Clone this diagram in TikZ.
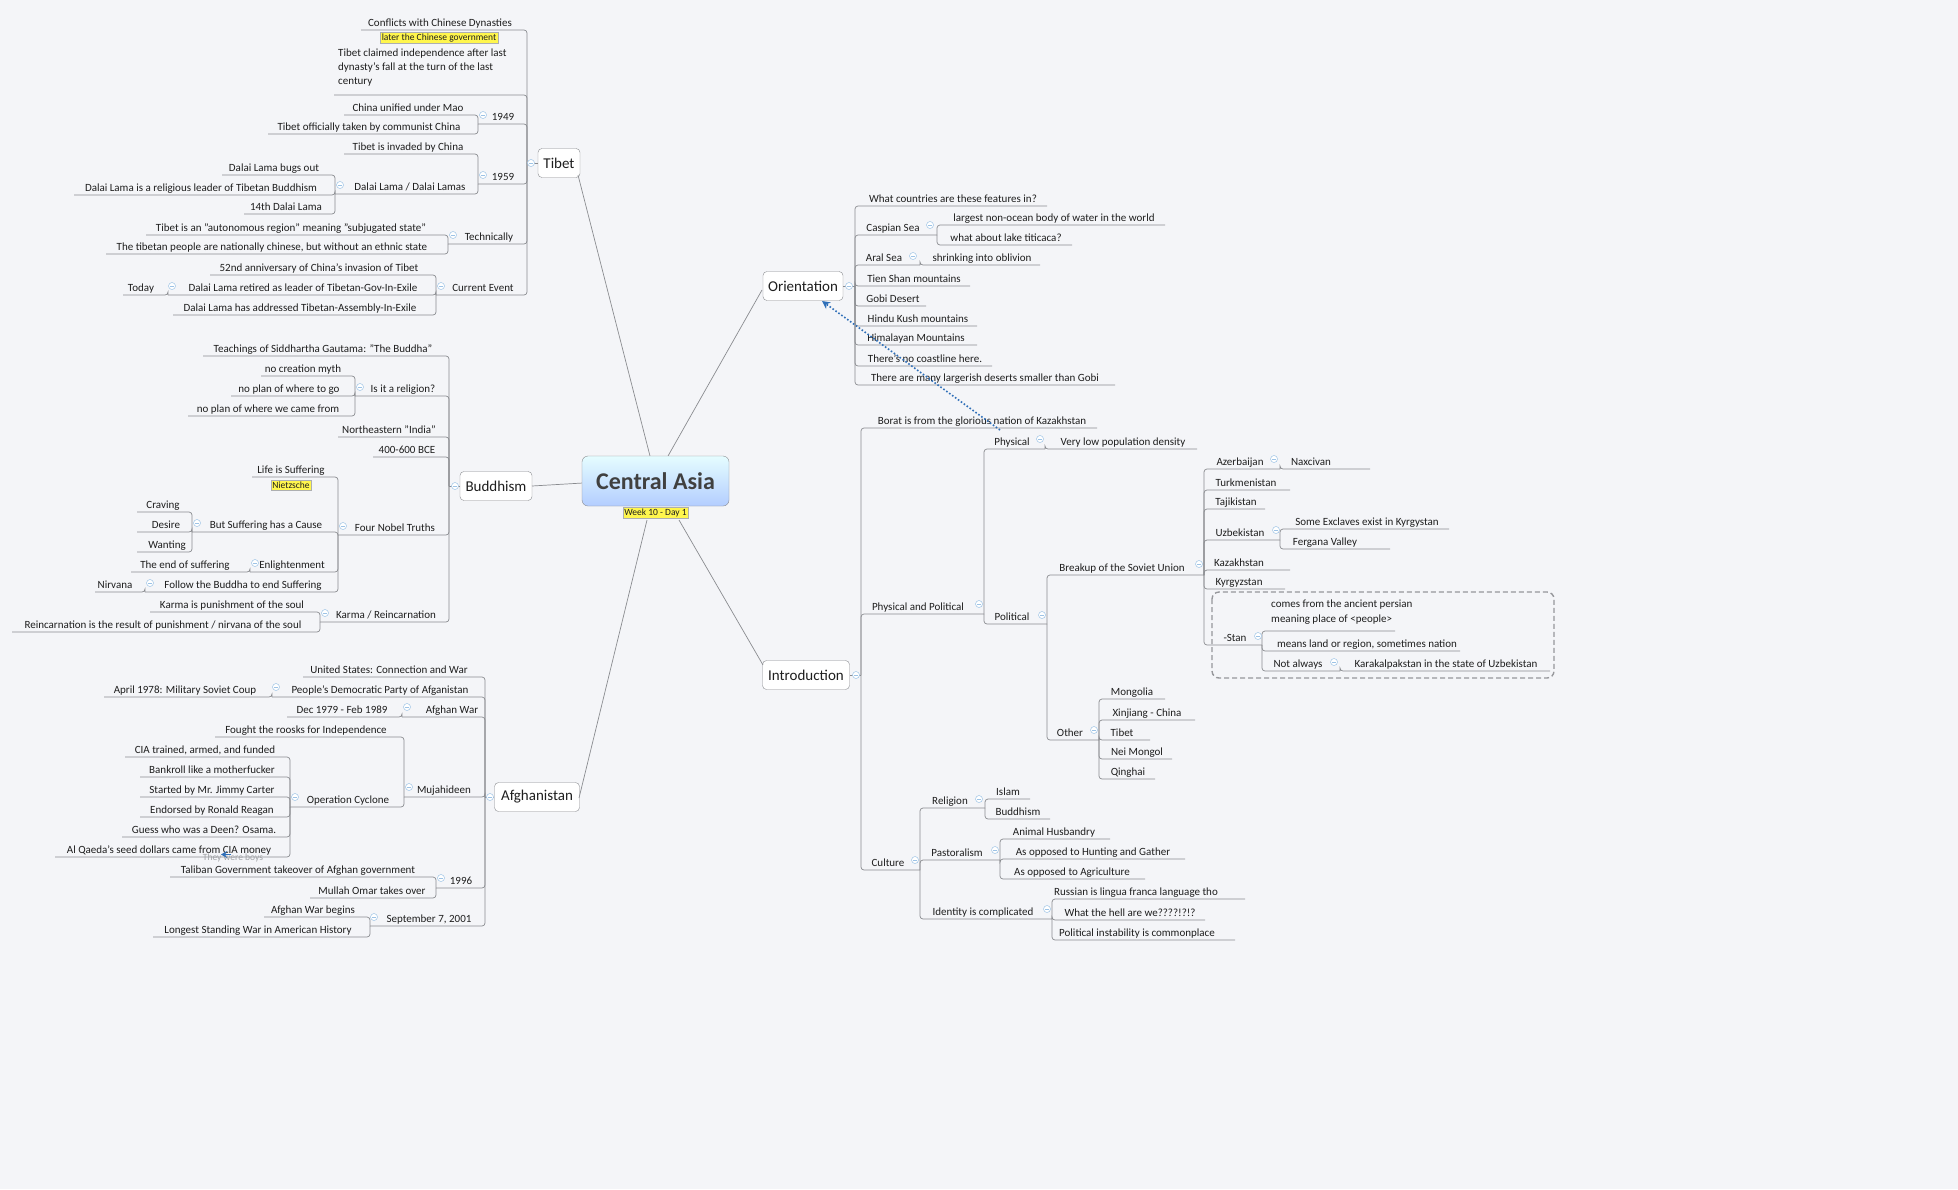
\documentclass[tikz,border=0pt]{standalone}
\usepackage{fontspec}
\setmainfont{Carlito}
\usetikzlibrary{arrows.meta}
\definecolor{bg}{HTML}{F4F5F8}
\definecolor{ln}{HTML}{8A8C90}
\definecolor{tx}{HTML}{1E1E1E}
\definecolor{cb}{HTML}{9DC3E6}
\definecolor{rel}{HTML}{2F6FB8}
\tikzset{
  x=1pt,y=-1pt,
  tx/.style={anchor=base,inner sep=0pt,text=tx,font=\fontsize{11}{13.5}\selectfont},
  ln/.style={draw=ln,line width=0.7pt,rounded corners=3pt},
  box/.style={draw=ln,fill=white,rounded corners=4pt,inner sep=0pt,text=tx,font=\fontsize{15}{17}\selectfont,minimum height=29pt},
  note/.style={draw=ln!70,fill=yellow!70,inner sep=1.5pt,text=tx,font=\fontsize{9.5}{11}\selectfont},
  cir/.style={draw=cb,fill=white,line width=0.5pt},
}
\newcommand\tp[6]{\coordinate (#1L) at (#2,#4); \coordinate (#1R) at (#3,#4); \node[tx] (#1) at (#5,#4-4) {#6};}
\newcommand\cnL[2]{\draw[ln] (#1L) -- (#1R) -- (#2L);}
\newcommand\cnR[2]{\draw[ln] (#1R) -- (#1L) -- (#2R);}
\begin{document}
\begin{tikzpicture}
\fill[bg] (0,0) rectangle (1958,1189);
\useasboundingbox (0,0) rectangle (1958,1189);

% ---------- central and main boxes
\node[box,minimum width=42pt] (tibet) at (559,163) {Tibet};
\node[box,minimum width=72pt] (bud) at (496,486) {Buddhism};
\node[box,minimum width=85pt] (afg) at (537,797) {Afghanistan};
\node[box,minimum width=80pt] (orient) at (803,286) {Orientation};
\node[box,minimum width=87pt] (intro) at (806,675) {Introduction};
\draw[ln,rounded corners=0] (650,456) -- (578,175);
\draw[ln,rounded corners=0] (532,486) -- (583,483);
\draw[ln,rounded corners=0] (647,520) -- (579,798);
\draw[ln,rounded corners=0] (668,456) -- (762,290);
\draw[ln,rounded corners=0] (679,520) -- (763,665);
\node[draw=ln,rounded corners=6pt,minimum width=147pt,minimum height=50pt,top color=blue!8!cyan!10,bottom color=cyan!35!blue!30,text=black!75,font=\bfseries\fontsize{24}{28}\selectfont] (ca) at (655.5,481) {Central Asia};
\node[note] (week) at (655.5,513) {Week 10 - Day 1};

% junctions
\coordinate (tibJL) at (527,163);
\coordinate (budJL) at (449,486);
\coordinate (afJL) at (485,797);
\coordinate (orJR) at (855,286);
\coordinate (inJR) at (861,675);
\draw[ln] (tibJL) -- (tibet.west);
\draw[ln] (budJL) -- (bud.west);
\draw[ln] (afJL) -- (afg.west);
\draw[ln] (orJR) -- (orient.east);
\draw[ln] (inJR) -- (intro.east);

% ---------- Tibet
\tp{t1}{361}{527}{30}{440}{Conflicts with Chinese Dynasties}
\node[note] (t1n) at (439,38) {later the Chinese government};
\coordinate (t2L) at (334,95); \coordinate (t2R) at (527,95);
\node[tx,anchor=north west,align=left,font=\fontsize{11}{14}\selectfont] (t2) at (338,49) {Tibet claimed independence after last\\dynasty's fall at the turn of the last\\century};
\tp{t3}{478}{527}{124}{503}{1949}
\tp{t31}{344}{478}{115}{408}{China unified under Mao}
\tp{t32}{268}{478}{134}{369}{Tibet officially taken by communist China}
\tp{t4}{478}{527}{184}{503}{1959}
\tp{t41}{344}{478}{154}{408}{Tibet is invaded by China}
\tp{t42}{335}{478}{194}{410}{Dalai Lama / Dalai Lamas}
\tp{t421}{222}{335}{175}{274}{Dalai Lama bugs out}
\tp{t422}{74}{335}{195}{201}{Dalai Lama is a religious leader of Tibetan Buddhism}
\tp{t423}{244}{335}{214}{286}{14th Dalai Lama}
\tp{t5}{448}{527}{244}{489}{Technically}
\tp{t51}{146}{448}{235}{291}{Tibet is an "autonomous region" meaning "subjugated state"}
\tp{t52}{106}{448}{254}{272}{The tibetan people are nationally chinese, but without an ethnic state}
\tp{t6}{436}{527}{295}{483}{Current Event}
\tp{t61}{210}{436}{275}{319}{52nd anniversary of China's invasion of Tibet}
\tp{t62}{168}{436}{295}{303}{Dalai Lama retired as leader of Tibetan-Gov-In-Exile}
\tp{t621}{123}{168}{295}{141}{Today}
\tp{t63}{173}{436}{315}{300}{Dalai Lama has addressed Tibetan-Assembly-In-Exile}
\foreach \c in {t1,t2,t3,t4,t5,t6} {\cnL{\c}{tibJ}}
\cnL{t31}{t3}\cnL{t32}{t3}\cnL{t41}{t4}\cnL{t42}{t4}
\cnL{t421}{t42}\cnL{t422}{t42}\cnL{t423}{t42}
\cnL{t51}{t5}\cnL{t52}{t5}\cnL{t61}{t6}\cnL{t62}{t6}\cnL{t63}{t6}\cnL{t621}{t62}

% ---------- Buddhism
\tp{b1}{203}{449}{356}{323}{Teachings of Siddhartha Gautama: "The Buddha"}
\tp{b2}{355}{449}{396}{403}{Is it a religion?}
\tp{b21}{261}{355}{376}{303}{no creation myth}
\tp{b22}{231}{355}{396}{289}{no plan of where to go}
\tp{b23}{188}{355}{416}{268}{no plan of where we came from}
\tp{b3}{338}{449}{437}{389}{Northeastern "India"}
\tp{b4}{373}{449}{457}{407}{400-600 BCE}
\tp{b5}{338}{449}{535}{395}{Four Nobel Truths}
\tp{b51}{252}{338}{477}{291}{Life is Suffering}
\node[note] (b51n) at (291,485) {Nietzsche};
\tp{b52}{192}{338}{532}{266}{But Suffering has a Cause}
\tp{b521}{137}{192}{512}{163}{Craving}
\tp{b522}{137}{192}{532}{166}{Desire}
\tp{b523}{137}{192}{552}{167}{Wanting}
\tp{b53}{250}{338}{572}{292}{Enlightenment}
\tp{b531}{131}{250}{572}{185}{The end of suffering}
\tp{b54}{145}{338}{592}{243}{Follow the Buddha to end Suffering}
\tp{b541}{95}{145}{592}{115}{Nirvana}
\tp{b6}{320}{449}{622}{386}{Karma / Reincarnation}
\tp{b61}{150}{320}{612}{232}{Karma is punishment of the soul}
\tp{b62}{12}{320}{632}{163}{Reincarnation is the result of punishment / nirvana of the soul}
\foreach \c in {b1,b2,b3,b4,b5,b6} {\cnL{\c}{budJ}}
\cnL{b21}{b2}\cnL{b22}{b2}\cnL{b23}{b2}
\cnL{b51}{b5}\cnL{b52}{b5}\cnL{b53}{b5}\cnL{b54}{b5}
\cnL{b521}{b52}\cnL{b522}{b52}\cnL{b523}{b52}
\cnL{b531}{b53}\cnL{b541}{b54}\cnL{b61}{b6}\cnL{b62}{b6}

% ---------- Afghanistan
\tp{a1}{303}{485}{677}{389}{United States: Connection and War}
\tp{a2}{272}{485}{697}{380}{People's Democratic Party of Afganistan}
\tp{a21}{104}{272}{697}{185}{April 1978: Military Soviet Coup}
\tp{a3}{402}{485}{717}{452}{Afghan War}
\tp{a31}{287}{402}{717}{342}{Dec 1979 - Feb 1989}
\tp{a4}{404}{485}{797}{444}{Mujahideen}
\tp{a41}{215}{404}{737}{306}{Fought the roosks for Independence}
\tp{a42}{290}{404}{807}{348}{Operation Cyclone}
\tp{a421}{125}{290}{757}{205}{CIA trained, armed, and funded}
\tp{a422}{140}{290}{777}{212}{Bankroll like a motherfucker}
\tp{a423}{140}{290}{797}{212}{Started by Mr. Jimmy Carter}
\tp{a424}{140}{290}{817}{212}{Endorsed by Ronald Reagan}
\tp{a425}{122}{290}{837}{204}{Guess who was a Deen? Osama.}
\tp{a426}{55}{290}{857}{169}{Al Qaeda's seed dollars came from CIA money}
\tp{a5}{436}{485}{888}{461}{1996}
\tp{a51}{170}{436}{877}{298}{Taliban Government takeover of Afghan government}
\tp{a52}{310}{436}{898}{372}{Mullah Omar takes over}
\tp{a6}{370}{485}{926}{429}{September 7, 2001}
\tp{a61}{264}{370}{917}{313}{Afghan War begins}
\tp{a62}{153}{370}{937}{258}{Longest Standing War in American History}
\foreach \c in {a1,a2,a3,a4,a5,a6} {\cnL{\c}{afJ}}
\cnL{a21}{a2}\cnL{a31}{a3}\cnL{a41}{a4}\cnL{a42}{a4}
\foreach \c in {a421,a422,a423,a424,a425,a426} {\cnL{\c}{a42}}
\cnL{a51}{a5}\cnL{a52}{a5}\cnL{a61}{a6}\cnL{a62}{a6}
\node[tx,text=ln!80,font=\fontsize{9.5}{11}\selectfont] (boys) at (233,860) {They were boys};
\draw[rel,line width=1.2pt,-{Stealth[length=6pt,width=7pt]}] (boys.center) ++(-2,-3) -- ++(-10,0);

% ---------- Orientation
\tp{o1}{855}{1047}{206}{953}{What countries are these features in?}
\tp{o2}{855}{937}{235}{893}{Caspian Sea}
\tp{o21}{937}{1165}{225}{1054}{largest non-ocean body of water in the world}
\tp{o22}{937}{1072}{245}{1006}{what about lake titicaca?}
\tp{o3}{855}{920}{265}{884}{Aral Sea}
\tp{o31}{920}{1040}{265}{982}{shrinking into oblivion}
\tp{o4}{855}{970}{286}{914}{Tien Shan mountains}
\tp{o5}{855}{926}{306}{893}{Gobi Desert}
\tp{o6}{855}{977}{326}{918}{Hindu Kush mountains}
\tp{o7}{855}{977}{345}{916}{Himalayan Mountains}
\tp{o8}{855}{992}{366}{925}{There's no coastline here.}
\tp{o9}{855}{1115}{385}{985}{There are many largerish deserts smaller than Gobi}
\foreach \c in {o1,o2,o3,o4,o5,o6,o7,o8,o9} {\cnR{\c}{orJ}}
\cnR{o21}{o2}\cnR{o22}{o2}\cnR{o31}{o3}

% ---------- Introduction
\tp{i1}{861}{1097}{428}{982}{Borat is from the glorious nation of Kazakhstan}
\tp{i2}{861}{984}{614}{918}{Physical and Political}
\tp{i21}{984}{1045}{449}{1012}{Physical}
\tp{i211}{1045}{1197}{449}{1123}{Very low population density}
\tp{i22}{984}{1047}{624}{1012}{Political}
\tp{i221}{1047}{1204}{575}{1122}{Breakup of the Soviet Union}
\tp{i2211}{1204}{1280}{469}{1240}{Azerbaijan}
\tp{i22111}{1280}{1370}{469}{1311}{Naxcivan}
\tp{i2212}{1204}{1290}{490}{1246}{Turkmenistan}
\tp{i2213}{1204}{1265}{509}{1236}{Tajikistan}
\tp{i2214}{1204}{1280}{540}{1240}{Uzbekistan}
\tp{i22141}{1280}{1449}{529}{1367}{Some Exclaves exist in Kyrgystan}
\tp{i22142}{1280}{1390}{549}{1325}{Fergana Valley}
\tp{i2215}{1204}{1290}{570}{1239}{Kazakhstan}
\tp{i2216}{1204}{1285}{589}{1239}{Kyrgyzstan}
\tp{i2217}{1204}{1262}{645}{1235}{-Stan}
\coordinate (i22171L) at (1262,631); \coordinate (i22171R) at (1395,631);
\node[tx,anchor=north west,align=left,font=\fontsize{11}{14.5}\selectfont] (i22171) at (1271,600) {comes from the ancient persian\\meaning place of <people>};
\tp{i22172}{1262}{1460}{651}{1367}{means land or region, sometimes nation}
\tp{i22173}{1262}{1340}{671}{1298}{Not always}
\tp{i221731}{1340}{1550}{671}{1446}{Karakalpakstan in the state of Uzbekistan}
\tp{i222}{1047}{1099}{740}{1070}{Other}
\tp{i2221}{1099}{1165}{699}{1132}{Mongolia}
\tp{i2222}{1099}{1195}{720}{1147}{Xinjiang - China}
\tp{i2223}{1099}{1150}{740}{1122}{Tibet}
\tp{i2224}{1099}{1172}{759}{1137}{Nei Mongol}
\tp{i2225}{1099}{1155}{779}{1128}{Qinghai}
\tp{i3}{861}{920}{870}{888}{Culture}
\tp{i31}{920}{985}{808}{950}{Religion}
\tp{i311}{985}{1030}{799}{1008}{Islam}
\tp{i312}{985}{1050}{819}{1018}{Buddhism}
\tp{i32}{920}{1000}{860}{957}{Pastoralism}
\tp{i321}{1000}{1110}{839}{1054}{Animal Husbandry}
\tp{i322}{1000}{1185}{859}{1093}{As opposed to Hunting and Gather}
\tp{i323}{1000}{1145}{879}{1072}{As opposed to Agriculture}
\tp{i33}{920}{1052}{919}{983}{Identity is complicated}
\tp{i331}{1052}{1245}{899}{1136}{Russian is lingua franca language tho}
\tp{i332}{1052}{1205}{920}{1130}{What the hell are we????!?!?}
\tp{i333}{1052}{1235}{940}{1137}{Political instability is commonplace}
\cnR{i1}{inJ}\cnR{i2}{inJ}\cnR{i3}{inJ}
\cnR{i21}{i2}\cnR{i22}{i2}\cnR{i211}{i21}
\cnR{i221}{i22}\cnR{i222}{i22}
\foreach \c in {i2211,i2212,i2213,i2214,i2215,i2216,i2217} {\cnR{\c}{i221}}
\cnR{i22111}{i2211}\cnR{i22141}{i2214}\cnR{i22142}{i2214}
\cnR{i22171}{i2217}\cnR{i22172}{i2217}\cnR{i22173}{i2217}\cnR{i221731}{i22173}
\foreach \c in {i2221,i2222,i2223,i2224,i2225} {\cnR{\c}{i222}}
\cnR{i31}{i3}\cnR{i32}{i3}\cnR{i33}{i3}
\cnR{i311}{i31}\cnR{i312}{i31}
\cnR{i321}{i32}\cnR{i322}{i32}\cnR{i323}{i32}
\cnR{i331}{i33}\cnR{i332}{i33}\cnR{i333}{i33}
\draw[ln!90,dashed,line width=1.4pt,dash pattern=on 5pt off 3pt,rounded corners=7pt] (1212,592) rectangle (1554,678);

% relationship
\coordinate (relS) at (1000,430);
\coordinate (relE) at (822,301);
\draw[rel,line width=1.6pt,dotted,-{Stealth[length=8pt,width=8pt]}] (relS) -- (relE);

% collapse circles
\foreach \x/\y in {531/163,483/115,483/175,340/185,453/235,441/286,172/286,
 455/486,360/387,343/526,197/523,255/563,150/583,325/613,
 490/797,276/687,407/707,409/787,295/797,441/878,374/917,
 849/286,930/225,913/256,
 856/675,979/604,1040/439,1042/615,1199/564,1274/459,1276/530,1258/636,1334/662,1094/730,915/860,979/799,995/850,1047/909}
 {\draw[cir] (\x,\y) circle (3.5); \draw[cb,line width=0.6pt] (\x-2,\y) -- (\x+2,\y);}
\end{tikzpicture}
\end{document}
